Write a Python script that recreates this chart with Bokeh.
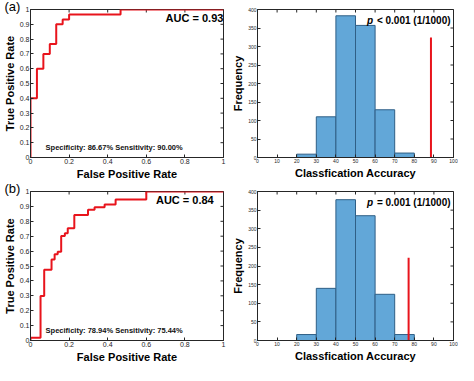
import math
from bokeh.plotting import figure
from bokeh.models import Label, FixedTicker, CustomJSTickFormatter, Range1d, Title
from bokeh.layouts import column, row
from bokeh.embed import file_html
from bokeh.resources import INLINE

# ---------------- data ----------------
roc_a_fpr = [0, 0, 1/30, 1/30, 2/30, 2/30, 0.1, 0.1, 4/30, 4/30, 5/30, 5/30, 0.2, 0.2,
             14/30, 14/30, 1]
roc_a_tpr = [0, 0.4, 0.4, 0.6, 0.6, 0.7, 0.7, 0.767, 0.767, 0.9, 0.9, 0.933, 0.933, 0.967,
             0.967, 1, 1]
roc_b_fpr = [0, 0, 0.052, 0.052, 0.071, 0.071, 0.109, 0.109, 0.125, 0.125, 0.141, 0.141,
             0.159, 0.159, 0.178, 0.178, 0.193, 0.193, 0.227, 0.227, 0.298, 0.298,
             0.332, 0.332, 0.384, 0.384, 0.441, 0.441, 0.6, 0.6, 1]
roc_b_tpr = [0, 0.018, 0.018, 0.298, 0.298, 0.474, 0.474, 0.544, 0.544, 0.579, 0.579, 0.596,
             0.596, 0.702, 0.702, 0.719, 0.719, 0.754, 0.754, 0.842, 0.842, 0.877,
             0.877, 0.895, 0.895, 0.912, 0.912, 0.947, 0.947, 1, 1]

auc_a = "AUC = 0.93"
auc_b = "AUC = 0.84"
spec_a = "Specificity: 86.67% Sensitivity: 90.00%"
spec_b = "Specificity: 78.94% Sensitivity: 75.44%"

bin_left = [20, 30, 40, 50, 60, 70]
bin_right = [30, 40, 50, 60, 70, 80]
counts_a = [9, 110, 383, 357, 129, 12]
counts_b = [16, 140, 378, 335, 124, 16]
observed_a = 88.5
observed_a_height = 324
observed_b = 77.1
observed_b_height = 222
ptext_a = "< 0.001 (1/1000)"
ptext_b = "= 0.001 (1/1000)"

roc_x_ticks = [0, 0.2, 0.4, 0.6, 0.8, 1]
roc_y_ticks = [0, 0.1, 0.2, 0.3, 0.4, 0.5, 0.6, 0.7, 0.8, 0.9, 1]
hist_x_ticks = [0, 10, 20, 30, 40, 50, 60, 70, 80, 90, 100]
hist_y_ticks = [0, 50, 100, 150, 200, 250, 300, 350, 400]

FONT = "Liberation Sans"
AXC = "#262626"
RED = "#e8141c"
BAR = "#62a7d8"
EDGE = "#2f5f86"

fmt = CustomJSTickFormatter(code="return String(Math.round(tick*10)/10);")


def style_axes(p, xt, yt, label_size, xmax, ymax):
    p.grid.visible = False
    p.outline_line_color = AXC
    p.outline_line_width = 1
    p.xaxis.ticker = FixedTicker(ticks=xt)
    p.yaxis.ticker = FixedTicker(ticks=yt)
    for ax in p.axis:
        ax.formatter = fmt
        ax.axis_line_color = AXC
        ax.major_tick_line_color = AXC
        ax.major_tick_in = 3
        ax.major_tick_out = 0
        ax.minor_tick_in = 0
        ax.minor_tick_out = 0
        ax.major_label_text_font = FONT
        ax.major_label_text_font_size = label_size
        ax.major_label_text_color = AXC
        ax.major_label_standoff = 1
        ax.axis_label_text_font = FONT
        ax.axis_label_text_font_size = "11px"
        ax.axis_label_text_font_style = "bold"
        ax.axis_label_text_color = "black"
        ax.axis_label_standoff = 1
    # inward ticks on the top and right edges of the box
    p.scatter(x=xt, y=[ymax] * len(xt), marker="dash", size=6, angle=math.pi / 2,
              line_color=AXC, line_width=1)
    p.scatter(x=[xmax] * len(yt), y=yt, marker="dash", size=6,
              line_color=AXC, line_width=1)


def roc_fig(fpr, tpr, auc, auc_x, spec, tag, height, top):
    p = figure(width=229, height=height, x_range=Range1d(0, 1), y_range=Range1d(0, 1),
               output_backend="svg", toolbar_location=None, tools="",
               min_border_left=26, min_border_right=6, min_border_top=top,
               min_border_bottom=22)
    style_axes(p, roc_x_ticks, roc_y_ticks, "7px", 1, 1)
    p.below[0].axis_label = "False Positive Rate"
    p.left[0].axis_label = "True Positive Rate"
    p.line(fpr, tpr, line_color=RED, line_width=2)
    p.add_layout(Label(x=auc_x, y=0.94, text=auc, text_font=FONT, text_font_size="11px",
                       text_font_style="bold", text_baseline="middle", text_color="black"))
    p.add_layout(Label(x=0.078, y=0.068, text=spec, text_font=FONT, text_font_size="7.5px",
                       text_font_style="bold", text_baseline="middle", text_color="#111111"))
    p.add_layout(Title(text=tag, align="left", offset=-26, standoff=-8,
                       text_font=FONT, text_font_size="13px", text_font_style="normal",
                       text_color="black"), "above")
    return p


def hist_fig(counts, obs, obs_h, ptext, height, top):
    p = figure(width=229, height=height, x_range=Range1d(0, 100), y_range=Range1d(0, 400),
               output_backend="svg", toolbar_location=None, tools="",
               min_border_left=27, min_border_right=5, min_border_top=top,
               min_border_bottom=22)
    style_axes(p, hist_x_ticks, hist_y_ticks, "5px", 100, 400)
    p.below[0].axis_label = "Classfication Accuracy"
    p.left[0].axis_label = "Frequency"
    p.quad(left=bin_left, right=bin_right, bottom=0, top=counts, fill_color=BAR,
           line_color=EDGE, line_width=1)
    p.segment(x0=[obs], y0=[0], x1=[obs], y1=[obs_h], line_color=RED, line_width=2)
    p.add_layout(Label(x=98.5, y=370, text=ptext, text_font=FONT, text_font_size="10px",
                       text_font_style="bold", text_align="right", text_baseline="middle",
                       text_color="black"))
    p.add_layout(Label(x=98.5, y=370, x_offset=-77.5, text="p", text_font=FONT,
                       text_font_size="10px", text_font_style="bold italic",
                       text_align="right", text_baseline="middle", text_color="black"))
    return p


a1 = roc_fig(roc_a_fpr, roc_a_tpr, auc_a, 0.70, spec_a, "(a)", 182, 6)
a2 = hist_fig(counts_a, observed_a, observed_a_height, ptext_a, 182, 6)
b1 = roc_fig(roc_b_fpr, roc_b_tpr, auc_b, 0.65, spec_b, "(b)", 183, 6)
b2 = hist_fig(counts_b, observed_b, observed_b_height, ptext_b, 183, 6)

layout = column(row(a1, a2), row(b1, b2))
open("out.html", "w").write(file_html(layout, INLINE))
